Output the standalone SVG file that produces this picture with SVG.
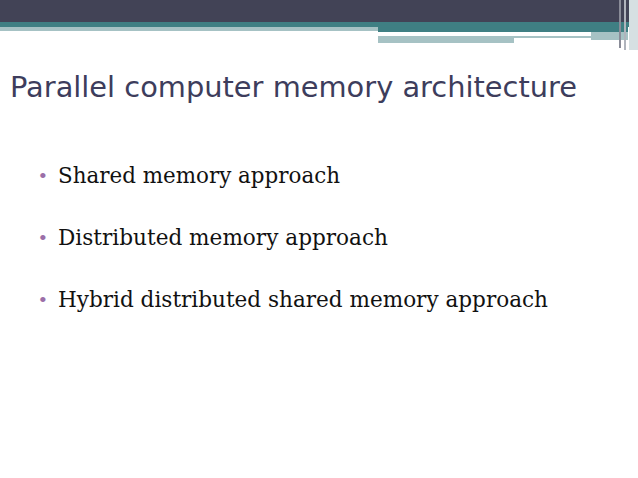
<svg xmlns="http://www.w3.org/2000/svg" width="638" height="478" viewBox="0 0 638 478">
<style>
.b{font-family:"DejaVu Serif",serif;font-size:22px;fill:#111}
.d{font-family:"Liberation Serif",serif;font-size:22px;fill:#9b6fa8}
</style>
<rect width="638" height="478" fill="#fff"/>
<g id="banner">
<rect x="0" y="0" width="638" height="22" fill="#424356"/>
<rect x="0" y="22" width="638" height="5" fill="#3f7f83"/>
<rect x="0" y="27" width="378" height="4" fill="#a6c2c4"/>
<rect x="378" y="27" width="250" height="5" fill="#3f7f83"/>
<rect x="378" y="36" width="136" height="7" fill="#a6c2c4"/>
<rect x="514" y="36" width="78" height="2" fill="#a6c2c4"/>
<rect x="591" y="32" width="37" height="8" fill="#a6c2c4"/>
<rect x="619" y="0" width="2" height="48" fill="#8a8c98"/>
<rect x="624" y="0" width="2" height="50" fill="#b0b4bc"/>
<rect x="629" y="0" width="9" height="50" fill="#d6e0e2"/>
</g>
<g id="title"><text x="10" y="97" font-family="'DejaVu Sans',sans-serif" font-size="29" fill="#3d3d5c" textLength="567" lengthAdjust="spacingAndGlyphs">Parallel computer memory architecture</text></g>
<g id="bullets">
<text x="39" y="183" class="d">•</text><text x="58" y="183" class="b" textLength="282" lengthAdjust="spacingAndGlyphs">Shared memory approach</text>
<text x="39" y="245" class="d">•</text><text x="58" y="245" class="b" textLength="330" lengthAdjust="spacingAndGlyphs">Distributed memory approach</text>
<text x="39" y="307" class="d">•</text><text x="58" y="307" class="b" textLength="490" lengthAdjust="spacingAndGlyphs">Hybrid distributed shared memory approach</text>
</g>
</svg>
